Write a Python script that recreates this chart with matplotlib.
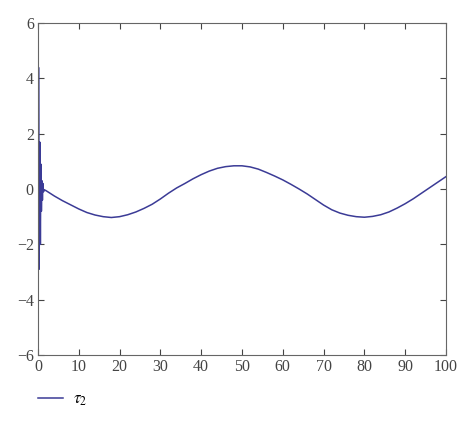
import matplotlib
matplotlib.use("Agg")
import matplotlib.pyplot as plt

plt.rcParams['font.family'] = ['Liberation Serif', 'DejaVu Serif']
plt.rcParams['mathtext.fontset'] = 'stix'

# start-up transient (t, tau2)
t_init = [0.0, 0.15, 0.3, 0.45, 0.6, 0.72, 0.85, 0.98, 1.1, 1.22, 1.35, 1.6]
y_init = [-6.5, 4.4, -2.9, 1.7, -2.0, 0.9, -0.8, 0.3, -0.4, 0.2, -0.1, -0.03]

# slow part of the response
t_main = [2, 4, 6, 8, 10, 12, 14, 16, 18, 20, 22, 24, 26, 28, 30, 32, 34,
          36, 38, 40, 42, 44, 46, 48, 50, 52, 54, 56, 58, 60, 62, 64, 66,
          68, 70, 72, 74, 76, 78, 80, 82, 84, 86, 88, 90, 92, 94, 96, 98, 100]
y_main = [-0.06, -0.25, -0.42, -0.57, -0.72, -0.85, -0.94, -1.0, -1.03,
          -1.0, -0.93, -0.83, -0.7, -0.55, -0.36, -0.15, 0.04, 0.2, 0.37,
          0.52, 0.65, 0.75, 0.81, 0.84, 0.84, 0.8, 0.72, 0.6, 0.47, 0.33,
          0.17, 0.0, -0.18, -0.38, -0.58, -0.75, -0.87, -0.95, -1.0, -1.02,
          -0.99, -0.93, -0.83, -0.69, -0.53, -0.35, -0.15, 0.05, 0.25, 0.45]

t = t_init + t_main
y = y_init + y_main

fig = plt.figure(figsize=(4.74, 4.21), dpi=100)
ax = fig.add_axes([0.080, 0.157, 0.861, 0.788])

ax.plot(t, y, color='#3b3b96', lw=1.1, label=r'$\tau_2$')

ax.set_xlim(0, 100)
ax.set_ylim(-6, 6)
ax.set_xticks(range(0, 101, 10))
ax.set_yticks(range(-6, 7, 2))
ax.set_yticklabels(['\u22126', '\u22124', '\u22122', '0', '2', '4', '6'])
ax.tick_params(direction='in', top=True, right=True, length=4,
               labelsize=11.5, colors='#444444', pad=3)
for s in ax.spines.values():
    s.set_color('#666666')
    s.set_linewidth(0.8)

ax.legend(loc='upper left', bbox_to_anchor=(0.0, -0.11), frameon=False,
          fontsize=12, handlelength=1.5, handletextpad=0.6,
          borderaxespad=0, borderpad=0)

fig.savefig('out.png', dpi=100)
